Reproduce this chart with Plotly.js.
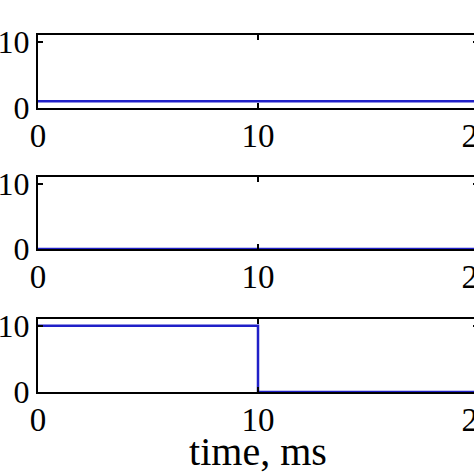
<!DOCTYPE html>
<html>
<head>
<meta charset="utf-8">
<script src="https://cdn.plot.ly/plotly-3.0.1.min.js"></script>
<style>
	body { margin: 0; overflow: hidden; background: #fff; }
	#chart { width: 520px; height: 474px; }
</style>
</head>
<body>
<div id="chart"></div>
<script>
// данные
var timeA = [0, 20];
var valA = [1, 1];

var timeB = [0, 20];
var valB = [0, 0];

var timeC = [0, 10, 20];
var valC = [10, 0, 0];

var xTicks = [0, 10, 20];
var yTicks = [0, 10];
var xTitle = 'time, ms';

var blue = '#2020c8';
var font = 'Liberation Serif, Times New Roman, serif';

// одна линия для подграфика
function makeLine(x, y, n, shape){
	return {
		x: x,
		y: y,
		type: 'scatter',
		mode: 'lines',
		xaxis: 'x' + n,
		yaxis: 'y' + n,
		line: { color: blue, width: 2.5, shape: shape },
		hoverinfo: 'none',
		showlegend: false
	};
}

function xAxis(n, withTitle){
	var ax = {
		domain: [0, 1],
		range: [0, 20],
		tickvals: xTicks,
		ticktext: xTicks.map(String),
		ticks: 'inside',
		ticklen: 5,
		tickwidth: 2,
		tickcolor: '#000',
		mirror: 'ticks',
		showline: true,
		linewidth: 2,
		linecolor: '#000',
		showgrid: false,
		zeroline: false,
		anchor: 'y' + n,
		ticklabelstandoff: -3,
		tickfont: { family: font, size: 33, color: '#000' },
		fixedrange: true
	};
	if(withTitle){
		ax.title = { text: xTitle, font: { family: font, size: 40, color: '#000' }, standoff: 0 };
	}
	return ax;
}

function yAxis(n, dom){
	return {
		domain: dom,
		range: [0, 11],
		tickvals: yTicks,
		ticktext: yTicks.map(String),
		ticks: 'inside',
		ticklen: 5,
		tickwidth: 2,
		tickcolor: '#000',
		mirror: 'ticks',
		showline: true,
		linewidth: 2,
		linecolor: '#000',
		showgrid: false,
		zeroline: false,
		anchor: 'x' + n,
		tickfont: { family: font, size: 32, color: '#000' },
		fixedrange: true
	};
}

var data = [
	makeLine(timeA, valA, 1, 'linear'),
	makeLine(timeB, valB, 2, 'linear'),
	makeLine(timeC, valC, 3, 'hv')
];

var layout = {
	width: 520,
	height: 474,
	margin: { l: 38, r: 42, t: 0, b: 0 },
	paper_bgcolor: '#fff',
	plot_bgcolor: '#fff',
	xaxis1: xAxis(1, false),
	xaxis2: xAxis(2, false),
	xaxis3: xAxis(3, true),
	yaxis1: yAxis(1, [0.7722, 0.9262]),
	yaxis2: yAxis(2, [0.4747, 0.6266]),
	yaxis3: yAxis(3, [0.1730, 0.3270])
};

Plotly.newPlot('chart', data, layout, { displayModeBar: false, staticPlot: true });
</script>
</body>
</html>
